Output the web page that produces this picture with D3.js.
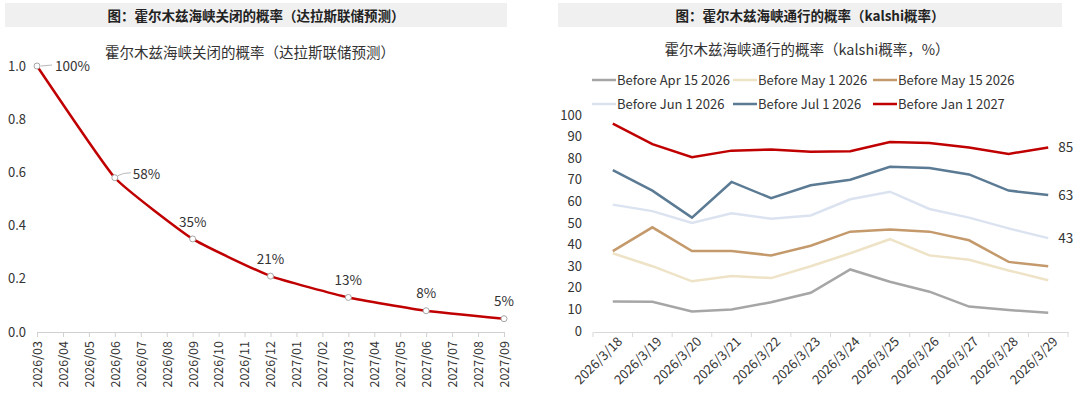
<!DOCTYPE html>
<html>
<head>
<meta charset="utf-8">
<script src="https://cdn.jsdelivr.net/npm/d3@7"></script>
<style>
  body { margin: 0; background: #fff; }
  text { font-family: "Noto Sans CJK SC", "Noto Sans", sans-serif; fill: #333; }
</style>
</head>
<body>
<script>
// left chart: closure probability (Dallas Fed)
const months = ['2026/03','2026/04','2026/05','2026/06','2026/07','2026/08','2026/09','2026/10','2026/11',
  '2026/12','2027/01','2027/02','2027/03','2027/04','2027/05','2027/06','2027/07','2027/08','2027/09'];
const closeMonths = ['2026/03','2026/06','2026/09','2026/12','2027/03','2027/06','2027/09'];
const closeProb = [1.0, 0.58, 0.35, 0.21, 0.13, 0.08, 0.05];
const leftTicks = [0, 0.2, 0.4, 0.6, 0.8, 1.0];

// right chart: kalshi passage probability
const days = ['2026/3/18','2026/3/19','2026/3/20','2026/3/21','2026/3/22','2026/3/23',
  '2026/3/24','2026/3/25','2026/3/26','2026/3/27','2026/3/28','2026/3/29'];
const seriesNames = ['Before Apr 15 2026','Before May 1 2026','Before May 15 2026',
  'Before Jun 1 2026','Before Jul 1 2026','Before Jan 1 2027'];
const apr15 = [13.7, 13.5, 9, 10, 13.3, 17.7, 28.5, 22.8, 18.2, 11.3, 9.7, 8.5];
const may1  = [36, 30, 23, 25.5, 24.5, 30, 36, 42.5, 35, 33, 28, 23.5];
const may15 = [37, 48, 37, 37, 35, 39.5, 46, 47, 46, 42, 32, 30];
const jun1  = [58.5, 55.5, 50, 54.5, 52, 53.5, 61, 64.5, 56.5, 52.5, 47.5, 43];
const jul1  = [74.5, 65, 52.5, 69, 61.5, 67.5, 70, 76, 75.5, 72.5, 65, 63];
const jan1  = [96, 86.5, 80.5, 83.5, 84, 83, 83.2, 87.5, 87, 85, 82, 85];
const endLabels = ['', '', '', '43', '63', '85'];
const rightTicks = [0,10,20,30,40,50,60,70,80,90,100];

const colors = ['#A6A6A6', '#EEE3C6', '#C49A6C', '#DCE3F0', '#5B7A93', '#C00000'];
const allSeries = [apr15, may1, may15, jun1, jul1, jan1];

const svg = d3.select('body').append('svg')
    .attr('width', 1080)
    .attr('height', 397);

// title bars
function titleBar(x0, x1, text) {
  svg.append('rect').attr('x', x0).attr('y', 3).attr('width', x1 - x0).attr('height', 24)
      .attr('fill', '#F0F0F0');
  svg.append('text').attr('x', (x0 + x1) / 2).attr('y', 16).attr('dy', '0.35em')
      .attr('text-anchor', 'middle').attr('font-size', 13.5).attr('font-weight', 'bold')
      .style('fill', '#222').text(text);
}
titleBar(5, 507, '图：霍尔木兹海峡关闭的概率（达拉斯联储预测）');
titleBar(558, 1062, '图：霍尔木兹海峡通行的概率（kalshi概率）');

// ---------- left chart ----------
const x1 = d3.scalePoint().domain(months).range([37, 504]);
const y1 = d3.scaleLinear().domain([0, 1]).range([332, 66]);

const gl = svg.append('g');
gl.append('text').attr('x', 250).attr('y', 53).attr('dy', '0.35em')
    .attr('text-anchor', 'middle').attr('font-size', 14.5)
    .text('霍尔木兹海峡关闭的概率（达拉斯联储预测）');

const xAxisL = gl.append('g').attr('transform', 'translate(0,332)')
    .call(d3.axisBottom(x1).tickSize(5).tickPadding(8));
xAxisL.select('.domain').attr('stroke', '#D0D0D0');
xAxisL.selectAll('.tick line').attr('stroke', '#D0D0D0');
xAxisL.selectAll('.tick text')
    .attr('font-size', 12.5).attr('text-anchor', 'end')
    .attr('transform', 'rotate(-90)').attr('x', -9).attr('y', 0).attr('dy', '0.35em')
    .style('fill', '#333');

const yAxisL = gl.append('g').attr('transform', 'translate(28,0)')
    .call(d3.axisLeft(y1).tickValues(leftTicks).tickFormat(d3.format('.1f')).tickSize(0).tickPadding(2));
yAxisL.select('.domain').remove();
yAxisL.selectAll('.tick text').attr('font-size', 13).style('fill', '#333');

const closeData = closeMonths.map((m, i) => ({ m: m, v: closeProb[i] }));
gl.append('path')
    .datum(closeData)
    .attr('fill', 'none').attr('stroke', '#C00000').attr('stroke-width', 2.5)
    .attr('d', d3.line().x(d => x1(d.m)).y(d => y1(d.v)).curve(d3.curveCardinal.tension(0.6)));

gl.selectAll('circle.pt')
    .data(closeData).enter().append('circle')
    .attr('cx', d => x1(d.m)).attr('cy', d => y1(d.v)).attr('r', 3)
    .attr('fill', '#fff').attr('stroke', '#A6A6A6').attr('stroke-width', 1);

// data labels: first two sit to the right with a leader line
gl.selectAll('text.lab')
    .data(closeData).enter().append('text')
    .attr('font-size', 13.5)
    .attr('text-anchor', (d, i) => i < 2 ? 'start' : 'middle')
    .attr('x', (d, i) => x1(d.m) + (i < 2 ? 18 : 0))
    .attr('y', (d, i) => y1(d.v) + (i === 0 ? 0 : i === 1 ? -3 : -17))
    .attr('dy', '0.35em')
    .text(d => d3.format('.0%')(d.v));
gl.selectAll('path.leader')
    .data(closeData.slice(0, 2)).enter().append('path')
    .attr('fill', 'none').attr('stroke', '#A6A6A6').attr('stroke-width', 0.8)
    .attr('d', (d, i) => {
      const px = x1(d.m), py = y1(d.v);
      return i === 0 ? `M${px + 4},${py} L${px + 15},${py - 1}`
                     : `M${px + 3},${py - 2} Q${px + 8},${py - 5} ${px + 16},${py - 5}`;
    });

// ---------- right chart ----------
const x2 = d3.scaleBand().domain(days).range([593, 1068]);
const y2 = d3.scaleLinear().domain([0, 100]).range([331, 115]);

const gr = svg.append('g');
gr.append('text').attr('x', 807).attr('y', 50).attr('dy', '0.35em')
    .attr('text-anchor', 'middle').attr('font-size', 14.5)
    .text('霍尔木兹海峡通行的概率（kalshi概率，%）');

// legend
const legCols = [592, 733, 873];
const leg = gr.selectAll('g.leg')
    .data(seriesNames).enter().append('g')
    .attr('transform', (d, i) => `translate(${legCols[i % 3]},${i < 3 ? 80 : 104})`);
leg.append('line').attr('x1', 0).attr('x2', 24).attr('y1', 0).attr('y2', 0)
    .attr('stroke', (d, i) => colors[i]).attr('stroke-width', 2.5);
leg.append('text').attr('x', 25).attr('dy', '0.35em').attr('font-size', 13).text(d => d);

const xAxisR = gr.append('g').attr('transform', 'translate(0,332)')
    .call(d3.axisBottom(x2).tickSize(0).tickPadding(8));
xAxisR.select('.domain').attr('stroke', '#D9D9D9');
xAxisR.selectAll('.tick text')
    .attr('font-size', 13).attr('text-anchor', 'end')
    .attr('transform', 'rotate(-45)').attr('x', 0).attr('y', 10).attr('dy', '0.35em')
    .style('fill', '#333');
// category separators
xAxisR.selectAll('line.sep')
    .data(days.concat(['end'])).enter().append('line')
    .attr('x1', (d, i) => x2.range()[0] + i * x2.step())
    .attr('x2', (d, i) => x2.range()[0] + i * x2.step())
    .attr('y1', 0).attr('y2', 5).attr('stroke', '#D9D9D9');

const yAxisR = gr.append('g').attr('transform', 'translate(582,0)')
    .call(d3.axisLeft(y2).tickValues(rightTicks).tickSize(0).tickPadding(0));
yAxisR.select('.domain').remove();
yAxisR.selectAll('.tick text').attr('font-size', 13).style('fill', '#333');

const lineR = d3.line()
    .x((d, i) => x2(days[i]) + x2.bandwidth() / 2)
    .y(d => y2(d));

gr.selectAll('path.series')
    .data(allSeries).enter().append('path')
    .attr('fill', 'none')
    .attr('stroke', (d, i) => colors[i])
    .attr('stroke-width', 2.5)
    .attr('d', d => lineR(d));

gr.selectAll('text.end')
    .data(allSeries).enter().append('text')
    .attr('x', x2(days[days.length - 1]) + x2.bandwidth() / 2 + 10)
    .attr('y', d => y2(d[d.length - 1]))
    .attr('dy', '0.35em')
    .attr('font-size', 13.5)
    .text((d, i) => endLabels[i]);
</script>
</body>
</html>
